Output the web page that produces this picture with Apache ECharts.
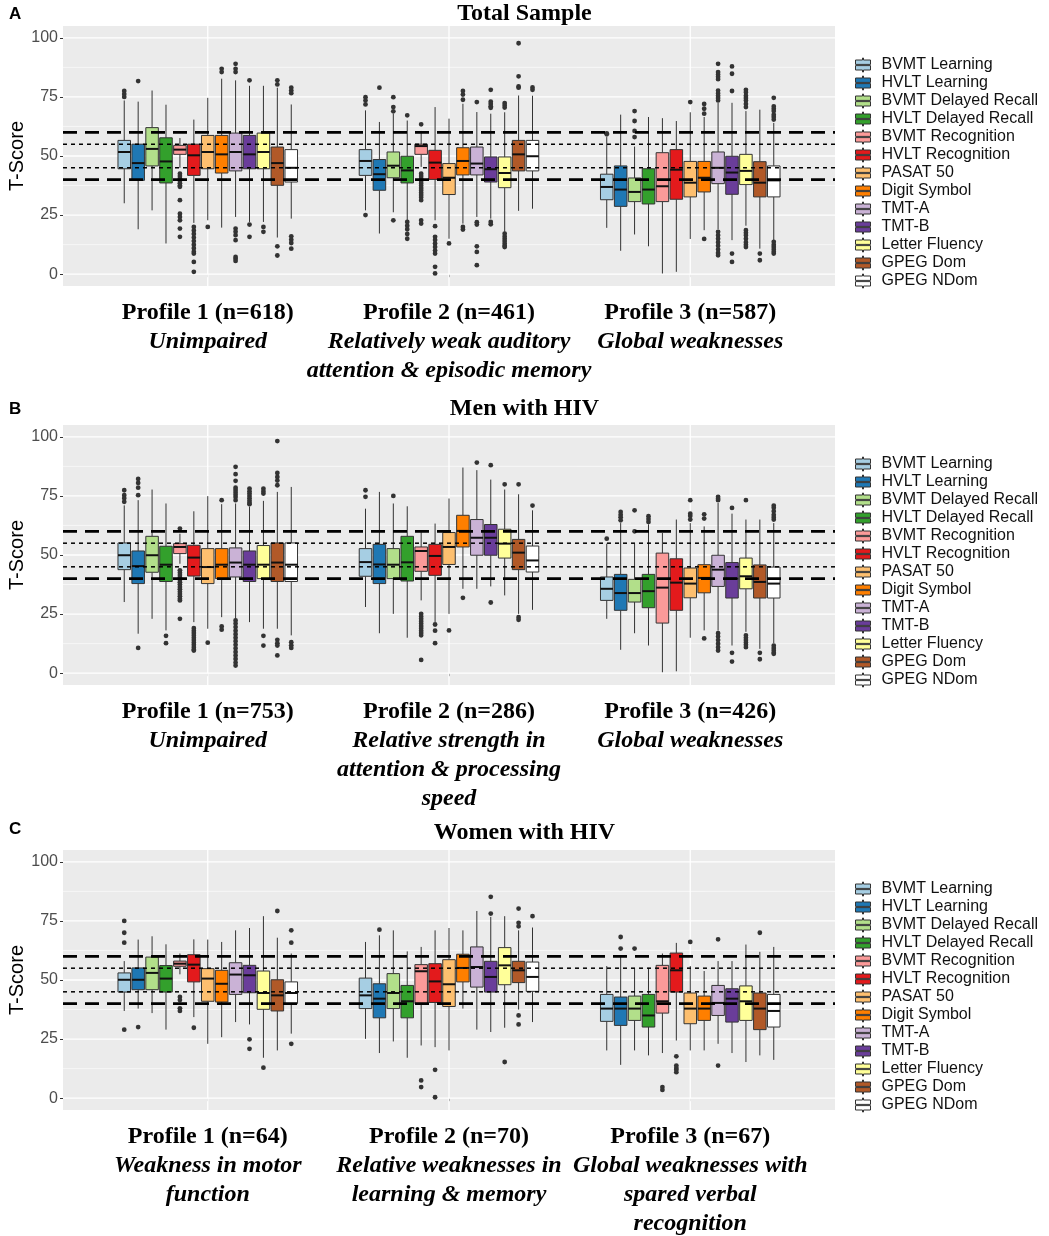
<!DOCTYPE html>
<html>
<head>
<meta charset="utf-8">
<script src="https://cdn.jsdelivr.net/npm/echarts@6.0.0/dist/echarts.min.js"></script>
<style>
  html, body { margin: 0; padding: 0; background: #fff; }
  #main { width: 1049px; height: 1236px; }
</style>
</head>
<body>
<div id="main"></div>
<script>
// tests (legend order) and colours
var tests = ['BVMT Learning', 'HVLT Learning', 'BVMT Delayed Recall', 'HVLT Delayed Recall',
    'BVMT Recognition', 'HVLT Recognition', 'PASAT 50', 'Digit Symbol', 'TMT-A', 'TMT-B',
    'Letter Fluency', 'GPEG Dom', 'GPEG NDom'];
var colors = ['#A6CEE3', '#1F78B4', '#B2DF8A', '#33A02C', '#FB9A99', '#E31A1C', '#FDBF6F',
    '#FF7F00', '#CAB2D6', '#6A3D9A', '#FFFF99', '#B15928', '#FFFFFF'];

var yTicks = [0, 25, 50, 75, 100];
var yMinor = [12.5, 37.5, 62.5, 87.5];
var refLong = [40, 60];
var refShort = [45, 55];
var profiles = [1, 2, 3];

// category labels [bold line, italic lines]
var totalLabels = [['Profile 1 (n=618)', 'Unimpaired'],
    ['Profile 2 (n=461)', 'Relatively weak auditory', 'attention & episodic memory'],
    ['Profile 3 (n=587)', 'Global weaknesses']];
var menLabels = [['Profile 1 (n=753)', 'Unimpaired'],
    ['Profile 2 (n=286)', 'Relative strength in', 'attention & processing', 'speed'],
    ['Profile 3 (n=426)', 'Global weaknesses']];
var womenLabels = [['Profile 1 (n=64)', 'Weakness in motor', 'function'],
    ['Profile 2 (n=70)', 'Relative weaknesses in', 'learning & memory'],
    ['Profile 3 (n=67)', 'Global weaknesses with', 'spared verbal', 'recognition']];

// box stats per test: [lower whisker, Q1, median, Q3, upper whisker]
var totalP1 = [[30, 44.6, 51.7, 56.6, 73.5], [19, 39.7, 47, 55, 73], [27, 45.8, 53, 62, 77.7],
    [13, 38.6, 47.7, 57.7, 71.7], [45, 50.7, 52.7, 54.5, 57.6], [21.7, 41.8, 50.3, 55, 65.4],
    [22.8, 44.6, 51.7, 58.7, 74.6], [19.7, 42.8, 50.7, 58.7, 82.7], [24.2, 43.7, 51.7, 59.7, 82],
    [22.1, 44.6, 50.7, 58.7, 79.7], [22.1, 44.6, 51.7, 59.7, 79.7], [15.5, 37.6, 47, 53.8, 78.9],
    [23.5, 39, 45, 52.7, 71.8]];
var totalP1Out = [[77.5, 76.2, 75], [81.7], [], [],
    [42.5, 41.5, 40.5, 39.5, 38.5, 37.5, 37, 31.3, 25.6, 24.2, 22.8, 19.3, 15.8],
    [20, 18.5, 17, 15.5, 14, 12.5, 11, 9.5, 8.7, 5.2, 1], [20], [86.9, 85.5],
    [89, 86.9, 85.5, 19.3, 18, 16.5, 14.4, 7.3, 6.5, 5.6], [82, 21, 15.8], [20, 17.9],
    [82, 80.3, 11.8, 7.9], [78.9, 77.7, 76.6, 16, 14.6, 13.2, 10.8]];
var totalP2 = [[27, 41.8, 47.9, 52.7, 69.3], [17.2, 35.5, 42.3, 48.5, 64.4], [26.2, 40.8, 45.9, 51.7, 67.9],
    [22.8, 38.6, 43.9, 49.9, 65], [45.4, 50.7, 54.2, 55, 60.6], [22.8, 40.1, 47.2, 52.4, 70.7],
    [15, 33.7, 40.8, 46.8, 65.8], [21.4, 42, 47.9, 53.5, 72.1], [24.2, 42, 46.8, 53.8, 68.6],
    [23.5, 39, 44.4, 49.6, 67.9], [17.9, 36.6, 42.8, 49.6, 68.5], [26.8, 43.7, 50.7, 56.6, 75.6],
    [27.7, 43.7, 49.9, 56.6, 75.5]];
var totalP2Out = [[74.9, 73.5, 71.8, 25], [78.9], [74.9, 70.7, 68.9, 22.8], [67.2, 22.1, 20.5, 19, 17, 15],
    [63.4, 42.5, 41.5, 40.5, 39.5, 38.5, 37.5, 36.5, 35.5, 34.5, 33.5, 32.5, 31.3, 22.8, 21.4],
    [20.3, 15.8, 14.5, 13, 11.5, 10, 8.7, 3.1, 0.3], [13], [77.5, 76, 73.8, 20, 18.9],
    [72.8, 22, 21, 11.8, 9.4, 3.8], [78, 73, 72, 71, 70.4, 22.1, 21.1],
    [72.4, 71.5, 70.5, 17.2, 16, 15, 14, 13, 12, 11.5], [97.7, 83.7, 79.4, 78.9], [79, 78]];
var totalP3 = [[19.6, 31.5, 36.9, 42.3, 58], [9.9, 28.7, 35.8, 45.8, 67.5], [16.8, 30.7, 34.8, 40.7, 54],
    [11.8, 29.7, 35.8, 44.6, 66.5], [0.3, 30.7, 37.2, 51.4, 66], [1, 31.7, 44.2, 52.7, 64.8],
    [14.9, 32.7, 38.7, 47.7, 68.5], [18.6, 34.8, 40.8, 47.7, 66.5], [19, 38.3, 45, 51.7, 72.5],
    [14.4, 33.8, 43, 49.9, 72.5], [20.5, 37.9, 43.7, 50.7, 69], [10.8, 32.7, 38.7, 47.6, 69.6],
    [14.4, 32.7, 39.7, 45.8, 64]];
var totalP3Out = [[59.6, 59.2], [], [69, 64.8, 60.6, 58], [], [], [], [72.8], [72, 70, 67.9, 14.9],
    [89, 85.5, 84.5, 83.5, 82.5, 77.7, 76.5, 75.5, 74.5, 73.5, 17.9, 16.5, 15, 13.5, 12, 10.5, 9, 8],
    [87.9, 84.8, 77.5, 8.7, 5.2],
    [78, 77, 75.5, 74.5, 73.5, 72, 70.7, 18.6, 17.5, 16.5, 15, 13.5, 12.5, 11.5], [8.7, 5.9],
    [74.6, 71, 70, 69, 67.5, 66.5, 65.4, 13.7, 12.5, 11.5, 10.5, 9.5, 8.7]];

var menP1 = [[30.1, 43.8, 49.9, 55.1, 71], [16.7, 37.9, 45.3, 51.7, 73.2], [23, 42.7, 49.9, 57.9, 77.7],
    [18.1, 38.8, 45.9, 53.7, 71.8], [46.3, 50.6, 53.4, 54.8, 59], [21.6, 41.1, 48.9, 54.1, 68.5],
    [18.8, 37.9, 44.9, 52.7, 74.9], [23.7, 40, 45.9, 52.7, 71.5], [23, 40.7, 46.8, 53, 71.8],
    [21.6, 38.8, 45.9, 51.7, 70.5], [18.8, 40, 45.9, 54, 72.9], [18.8, 38.8, 46.8, 55.1, 76.7],
    [16, 38.8, 45.9, 55.1, 78.8]];
var menP1Out = [[77.4, 75.3, 74, 72.5], [82.2, 80.5, 78.5, 75.3, 10.7], [], [15.8, 12.7],
    [61.2, 43.5, 42.5, 41.5, 40.5, 39.5, 38.5, 37.5, 36.5, 35.5, 34.5, 33.5, 32.5, 31.5, 30.8, 23],
    [19, 18, 17, 16, 15, 14, 13, 12, 11, 10, 9.6], [12.9], [73.2, 19.8, 18.4],
    [87.3, 84.2, 81.4, 78.5, 77.5, 76.5, 75.5, 74.5, 73.2, 22.3, 21, 19.5, 18, 16.5, 15, 13.5, 12, 10.5, 9, 7.5, 6, 4.5, 3.2],
    [78.1, 77, 76, 75, 74, 73, 72, 71.5], [78.1, 77, 76, 15.8, 11.7],
    [98.2, 84.7, 83, 81.5, 79.5, 14.1, 12.7, 11.7, 7.5], [13.1, 11.8, 10.7]];
var menP2 = [[28, 41, 47, 52.7, 69.6], [16.9, 37.9, 46, 54.5, 76.7], [25.1, 40, 45.9, 52.7, 71.8],
    [15, 39, 46.9, 57.9, 70.6], [30.8, 43.1, 51.7, 53.4, 59.7], [21.6, 41.4, 49.6, 54.5, 63.3],
    [25.1, 46, 53.4, 59.5, 73.9], [35.7, 53.4, 60.2, 66.8, 87], [35.7, 49.9, 57.3, 65, 85.9],
    [36.7, 49.9, 57.3, 62.9, 81.9], [32.9, 48.7, 54.8, 60.9, 77.7], [25.1, 43.8, 51, 56.6, 75.7],
    [26.8, 42.8, 47.7, 53.8, 68.9]];
var menP2Out = [[77.4, 74.6], [], [75], [], [25.1, 24, 23, 22, 21, 20, 19, 18, 17, 16, 5.6],
    [20.6, 18, 12.7], [18.1], [31.9], [89.1], [88, 29.9], [79.9], [79.9, 23.7, 22.6], [70.9]];
var menP3 = [[23, 30.8, 35.7, 40.7, 54.8], [9.9, 26.6, 33.9, 41.8, 63.5], [16.9, 30.1, 33.9, 39.7, 54.8],
    [11.7, 27.7, 34.7, 41.8, 63], [0.4, 21.2, 36.2, 50.8, 59.3], [0.8, 26.6, 38.3, 48.4, 65],
    [15, 31.9, 37.9, 44.5, 63.5], [18.1, 34, 40.3, 45.9, 62.1], [18, 36.7, 43.8, 49.9, 72],
    [11.7, 31.8, 40, 46.8, 67.5], [17.5, 35.7, 41, 48.7, 65], [10.3, 31.8, 38.6, 45.8, 65],
    [12.7, 31.8, 37.9, 44.9, 63.5]];
var menP3Out = [[56.9], [68.2, 67, 66, 64.7], [68.9, 60], [66.4, 65.2, 64], [], [],
    [73.2, 67.5, 66.5, 65], [67.2, 65.4, 14.7], [74.6, 73.8, 73.2, 16.9, 15.5, 14, 12.5, 11, 9.6],
    [69.9, 8.6, 4.9], [73.2, 16, 15, 14, 13, 12, 11], [8.6, 5.9],
    [70.9, 70, 68.5, 67, 66, 65, 11.7, 10.7, 9.7, 8.7, 8.2]];

var womenP1 = [[36.9, 44.9, 50.1, 53, 58], [37.9, 45.9, 50.1, 55.1, 67.1], [36, 45.9, 53, 59.7, 68.5],
    [29, 44.9, 50.6, 56.1, 65.1], [52.4, 55.8, 56.9, 58, 61.2], [34.3, 49.2, 56.5, 60.7, 67.2],
    [23, 41, 50.6, 54.8, 67.1], [25.8, 40.7, 48.4, 54.1, 66.1], [32.2, 43.9, 52.3, 57.3, 71],
    [31.2, 44.6, 52, 56.2, 72], [17.1, 37.6, 44.5, 53.8, 77], [20.2, 36.9, 43.5, 50.1, 67.9],
    [27.3, 40, 44.5, 49.2, 61.2]];
var womenP1Out = [[75, 70, 65.8, 29], [30.1], [], [], [42.8, 41.5, 38, 36.9], [29.8], [], [], [],
    [24.9, 20.9], [12.9], [79.2], [71, 65.8, 23]];
var womenP2 = [[25.1, 37.9, 43.5, 50.8, 66.1], [19.1, 34, 42.1, 48.4, 68.9], [24, 37.9, 44.5, 52.7, 71],
    [17.1, 34, 41, 47.7, 62.1], [22.3, 40, 53.7, 56.5, 64], [21.6, 40.5, 49.4, 56.9, 71],
    [20.2, 38.8, 48.2, 58.6, 72], [37.9, 49.2, 55.1, 60.9, 71], [29, 47, 55.5, 64, 79.2],
    [28, 44.9, 51.3, 57.9, 76.7], [29.8, 48, 56.2, 63.7, 77], [37.5, 48.9, 54.1, 57.9, 71],
    [32.2, 45.2, 51.3, 57.6, 72.2]];
var womenP2Out = [[], [71.3], [], [], [7.5, 4.7], [12, 0.4], [], [], [], [85.2, 78.1], [15.3],
    [80.2, 74.2, 72.7, 35, 31.2], [77]];
var womenP3 = [[20.2, 32.5, 37.9, 43.9, 55.9], [14.1, 30.8, 37.9, 42.8, 60.5], [20.2, 32.9, 37.9, 43.2, 55.1],
    [18.1, 30.1, 35, 43.9, 55.1], [19.1, 36, 41, 56.2, 61.2], [24.4, 44.9, 54.1, 61.4, 65.7],
    [20.2, 31.5, 37.9, 44.5, 55.9], [20.2, 32.9, 37.9, 43.2, 53.8], [23, 35, 40.3, 47.7, 58],
    [19.1, 32.2, 42.1, 46.3, 58], [15.3, 32.9, 41, 47.5, 65], [18.1, 29, 37.9, 44.5, 61.9],
    [16.2, 30.1, 36.9, 43.9, 64]];
var womenP3Out = [[], [68.2, 63.3], [63.3], [], [4.7, 3.5], [17.7, 13.8, 12.8, 12, 11], [66.1], [],
    [67.2, 13.8], [], [], [70], []];

var panels = [
    { title: 'Total Sample', letter: 'A', top: 26, titleTop: 2, letterTop: 1, labels: totalLabels,
      boxes: [totalP1, totalP2, totalP3], outs: [totalP1Out, totalP2Out, totalP3Out] },
    { title: 'Men with HIV', letter: 'B', top: 425, titleTop: 397, letterTop: 396, labels: menLabels,
      boxes: [menP1, menP2, menP3], outs: [menP1Out, menP2Out, menP3Out] },
    { title: 'Women with HIV', letter: 'C', top: 850, titleTop: 821, letterTop: 816, labels: womenLabels,
      boxes: [womenP1, womenP2, womenP3], outs: [womenP1Out, womenP2Out, womenP3Out] }
];

var DODGE = 0.75;
var SLOT = DODGE / tests.length;
var HALF = SLOT * 0.45;
var INK = '#333333';
var boxIcon = 'path://M7,0L8,0L8,2L15,2L15,6.4L0,6.4L0,2L7,2Z M0,7.6L15,7.6L15,12L8,12L8,14L7,14L7,12L0,12Z';

// background grid lines
function frameRender(params, api) {
    var x0 = api.coord([0.4, 0])[0], x1 = api.coord([3.6, 0])[0];
    var yT = api.coord([1, 105])[1], yB = api.coord([1, -5])[1];
    var kids = [];
    yMinor.forEach(function (v) {
        var y = api.coord([1, v])[1];
        kids.push({ type: 'line', shape: { x1: x0, y1: y, x2: x1, y2: y }, style: { stroke: '#fff', lineWidth: 0.6 } });
    });
    yTicks.forEach(function (v) {
        var y = api.coord([1, v])[1];
        kids.push({ type: 'line', shape: { x1: x0, y1: y, x2: x1, y2: y }, style: { stroke: '#fff', lineWidth: 1.3 } });
    });
    profiles.forEach(function (p) {
        var x = api.coord([p, 0])[0];
        kids.push({ type: 'line', shape: { x1: x, y1: yT, x2: x, y2: yB }, style: { stroke: '#fff', lineWidth: 1.3 } });
    });
    return { type: 'group', children: kids };
}

// dashed reference lines on top
function refRender(params, api) {
    var x0 = api.coord([0.4, 0])[0], x1 = api.coord([3.6, 0])[0];
    var kids = [];
    refShort.forEach(function (v) {
        var y = api.coord([1, v])[1];
        kids.push({ type: 'line', shape: { x1: x0, y1: y, x2: x1, y2: y },
            style: { stroke: '#000', lineWidth: 1.5, lineDash: [4, 4] } });
    });
    refLong.forEach(function (v) {
        var y = api.coord([1, v])[1];
        kids.push({ type: 'line', shape: { x1: x0, y1: y, x2: x1, y2: y },
            style: { stroke: '#000', lineWidth: 2.8, lineDash: [14, 8] } });
    });
    return { type: 'group', children: kids };
}

function boxRender(outs, color) {
    return function (params, api) {
        var xc = api.value(0);
        var cx = api.coord([xc, 0])[0];
        var left = api.coord([xc - HALF, 0])[0];
        var right = api.coord([xc + HALF, 0])[0];
        var yLo = api.coord([xc, api.value(1)])[1];
        var yQ1 = api.coord([xc, api.value(2)])[1];
        var yMed = api.coord([xc, api.value(3)])[1];
        var yQ3 = api.coord([xc, api.value(4)])[1];
        var yHi = api.coord([xc, api.value(5)])[1];
        var kids = [
            { type: 'line', shape: { x1: cx, y1: yHi, x2: cx, y2: yQ3 }, style: { stroke: INK, lineWidth: 1 } },
            { type: 'line', shape: { x1: cx, y1: yQ1, x2: cx, y2: yLo }, style: { stroke: INK, lineWidth: 1 } },
            { type: 'rect', shape: { x: left, y: yQ3, width: right - left, height: yQ1 - yQ3 },
              style: { fill: color, stroke: INK, lineWidth: 1 } },
            { type: 'line', shape: { x1: left, y1: yMed, x2: right, y2: yMed }, style: { stroke: '#111', lineWidth: 2 } }
        ];
        (outs[params.dataIndex] || []).forEach(function (v) {
            var y = api.coord([xc, v])[1];
            kids.push({ type: 'circle', shape: { cx: cx, cy: y, r: 2.4 }, style: { fill: INK } });
        });
        return { type: 'group', children: kids };
    };
}

var option = {
    animation: false,
    backgroundColor: '#fff',
    title: [], grid: [], xAxis: [], yAxis: [], legend: [], series: []
};

panels.forEach(function (pn, g) {
    option.title.push({ text: pn.title, left: 'center', top: pn.titleTop, padding: 0,
        textStyle: { fontFamily: 'Liberation Serif', fontWeight: 'bold', fontSize: 24, color: '#000' } });
    option.title.push({ text: pn.letter, left: 4, top: pn.letterTop,
        textStyle: { fontFamily: 'Liberation Sans', fontWeight: 'bold', fontSize: 17, color: '#000' } });

    option.grid.push({ left: 63, width: 772, top: pn.top, height: 260, show: true,
        containLabel: false, outerBoundsMode: 'none',
        backgroundColor: '#EBEBEB', borderWidth: 0 });

    var labels = pn.labels;
    option.xAxis.push({
        type: 'value', gridIndex: g, min: 0.4, max: 3.6,
        splitLine: { show: false }, axisLine: { show: false },
        axisTick: { show: true, customValues: profiles, length: 3, lineStyle: { color: INK } },
        axisLabel: {
            customValues: profiles, margin: 12,
            formatter: function (v) {
                var l = labels[Math.round(v) - 1];
                var s = '{a|' + l[0] + '}';
                for (var k = 1; k < l.length; k++) s += '\n{b|' + l[k] + '}';
                return s;
            },
            rich: {
                a: { fontFamily: 'Liberation Serif', fontWeight: 'bold', fontSize: 24, lineHeight: 29, color: '#000' },
                b: { fontFamily: 'Liberation Serif', fontWeight: 'bold', fontStyle: 'italic', fontSize: 24, lineHeight: 29, color: '#000' }
            }
        }
    });
    option.yAxis.push({
        type: 'value', gridIndex: g, min: -5, max: 105,
        name: 'T-Score', nameLocation: 'middle', nameGap: 36, nameMoveOverlap: false,
        nameTextStyle: { fontFamily: 'Liberation Sans', fontSize: 20, color: '#000' },
        splitLine: { show: false }, axisLine: { show: false },
        axisTick: { show: true, customValues: yTicks, length: 3, lineStyle: { color: INK } },
        axisLabel: { customValues: yTicks, margin: 5, fontFamily: 'Liberation Sans', fontSize: 16, color: '#4D4D4D' }
    });

    option.legend.push({
        orient: 'vertical', left: 850, top: pn.top + 26, selectedMode: false,
        itemWidth: 15, itemHeight: 14, itemGap: 2,
        itemStyle: { borderColor: INK, borderWidth: 1 },
        textStyle: { fontFamily: 'Liberation Sans', fontSize: 16, lineHeight: 14, color: '#111', padding: [0, 0, 0, 6] },
        data: tests.map(function (n) { return { name: n, icon: boxIcon }; })
    });

    option.series.push({ type: 'custom', name: 'grid' + g, xAxisIndex: g, yAxisIndex: g, z: 1,
        silent: true, renderItem: frameRender, data: [[2, 50]] });

    tests.forEach(function (name, i) {
        var rows = [], outs = [];
        profiles.forEach(function (p, j) {
            var b = pn.boxes[j][i];
            rows.push([p - DODGE / 2 + (i + 0.5) * SLOT, b[0], b[1], b[2], b[3], b[4]]);
            outs.push(pn.outs[j][i]);
        });
        option.series.push({
            type: 'custom', name: name, xAxisIndex: g, yAxisIndex: g, z: 2,
            itemStyle: { color: colors[i] },
            renderItem: boxRender(outs, colors[i]),
            encode: { x: 0, y: [1, 2, 3, 4, 5] },
            data: rows
        });
    });

    option.series.push({ type: 'custom', name: 'ref' + g, xAxisIndex: g, yAxisIndex: g, z: 5,
        silent: true, renderItem: refRender, data: [[2, 50]] });
});

var chart = echarts.init(document.getElementById('main'));
chart.setOption(option);
</script>
</body>
</html>
